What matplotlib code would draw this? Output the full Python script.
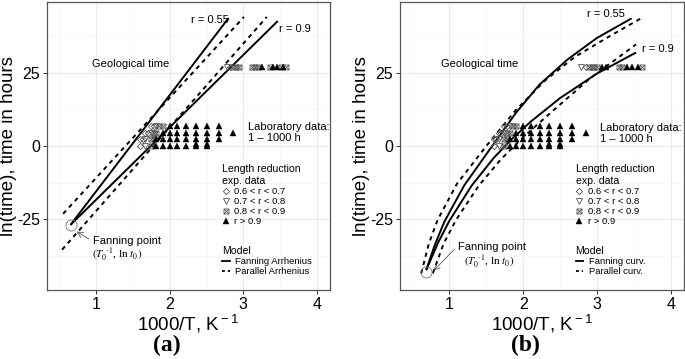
import matplotlib
matplotlib.use('Agg')
import matplotlib.pyplot as plt
from matplotlib.path import Path
from matplotlib.lines import Line2D

plt.rcParams['font.family'] = ['Liberation Sans', 'DejaVu Sans']
plt.rcParams['mathtext.fontset'] = 'custom'
plt.rcParams['mathtext.rm'] = 'Liberation Sans'
plt.rcParams['mathtext.it'] = 'Liberation Sans:italic'

# ---- experimental data: x = 1000/T, y = ln(time in hours) ----
# laboratory data, grouped by length reduction r
lab_r06_x = [1.600, 1.600, 1.635, 1.667, 1.700, 1.739, 1.780]
lab_r06_y = [0.0, 2.3, 2.3, 4.6, 4.6, 6.9, 6.9]
lab_r07_x = [1.667, 1.667, 1.739, 1.818]
lab_r07_y = [0.0, 2.3, 4.6, 6.9]
lab_r08_x = [1.739, 1.739, 1.780, 1.780, 1.818, 1.860, 1.905]
lab_r08_y = [0.0, 2.3, 2.3, 4.6, 4.6, 6.9, 6.9]
lab_r09_x = [1.818, 1.905, 2.000, 2.105, 2.222, 2.353, 2.500, 2.353, 2.500,
             1.818, 1.905, 2.000, 2.105, 2.222, 2.353, 2.500, 2.667,
             1.905, 2.000, 2.105, 2.222, 2.353, 2.500, 2.667, 2.857,
             2.000, 2.105, 2.222, 2.353, 2.500, 2.667]
lab_r09_y = [0.0, 0.0, 0.0, 0.0, 0.0, 0.0, 0.0, 0.69, 0.69,
             2.3, 2.3, 2.3, 2.3, 2.3, 2.3, 2.3, 2.3,
             4.6, 4.6, 4.6, 4.6, 4.6, 4.6, 4.6, 4.6,
             6.9, 6.9, 6.9, 6.9, 6.9, 6.9]

# geological time data (ln t ~ 27), temperatures differ between the two models
geo_y = 27.0
geo_a_r06_x = [2.82]
geo_a_r07_x = [2.78]
geo_a_r08_x = [2.86, 2.90, 2.94, 3.12, 3.16, 3.20, 3.36, 3.51, 3.58]
geo_a_r09_x = [3.26, 3.41, 3.46, 3.54]
geo_b_r06_x = [2.85]
geo_b_r07_x = [2.78]
geo_b_r08_x = [2.89, 2.93, 2.96, 3.00, 3.30, 3.34, 3.61]
geo_b_r09_x = [3.07, 3.12, 3.41, 3.48, 3.55]

# ---- model lines ----
# (a) Arrhenius: fanning and parallel
fan_a_055_x = [0.65, 2.80]
fan_a_055_y = [-27.0, 43.8]
fan_a_09_x = [0.65, 3.47]
fan_a_09_y = [-27.0, 42.8]
par_a_055_x = [0.55, 3.01]
par_a_055_y = [-23.2, 44.2]
par_a_09_x = [0.535, 3.32]
par_a_09_y = [-35.5, 44.2]
fan_point_a = (0.65, -27.0)

# (b) curvilinear: fanning and parallel
fan_b_055_x = [0.685, 0.80, 0.93, 1.20, 1.58, 1.90, 2.22, 2.60, 3.00, 3.47]
fan_b_055_y = [-42.5, -34.0, -26.0, -13.5, 0.0, 11.3, 21.0, 29.6, 37.0, 43.7]
fan_b_09_x = [0.685, 0.85, 1.00, 1.30, 1.60, 1.83, 2.10, 2.50, 3.00, 3.53]
fan_b_09_y = [-42.5, -32.9, -25.6, -13.6, -4.1, 2.0, 8.3, 16.4, 24.8, 32.0]
par_b_055_x = [0.617, 0.72, 0.84, 1.10, 1.50, 1.90, 2.30, 2.70, 3.20, 3.59]
par_b_055_y = [-43.6, -33.5, -25.3, -13.0, 0.0, 12.3, 22.5, 30.5, 38.0, 43.6]
par_b_09_x = [0.775, 0.92, 1.09, 1.40, 1.70, 2.00, 2.40, 2.90, 3.53]
par_b_09_y = [-43.6, -33.5, -25.3, -13.5, -4.5, 3.0, 12.0, 23.0, 34.8]
fan_point_b = (0.68, -43.0)

# square with a cross inside (ggplot shape 7)
box_x = Path([(-1, -1), (1, -1), (1, 1), (-1, 1), (-1, -1), (-1, -1), (1, 1), (-1, 1), (1, -1)],
             [Path.MOVETO, Path.LINETO, Path.LINETO, Path.LINETO, Path.CLOSEPOLY,
              Path.MOVETO, Path.LINETO, Path.MOVETO, Path.LINETO])

open_col = '#555555'
m_r06 = dict(marker='D', ms=3.2, mfc='none', mec=open_col, mew=0.6, ls='none')
m_r07 = dict(marker='v', ms=4.2, mfc='none', mec=open_col, mew=0.6, ls='none')
m_r08 = dict(marker=box_x, ms=3.6, mfc='none', mec=open_col, mew=0.6, ls='none')
m_r09 = dict(marker='^', ms=4.2, mfc='black', mec='black', mew=0.3, ls='none')
solid = dict(color='black', lw=1.4, ls='-', solid_capstyle='butt')
dashed = dict(color='black', lw=1.4, ls=(0, (2.2, 2.2)))

fig = plt.figure(figsize=(6.85, 3.59), dpi=100)
axa = fig.add_axes([47 / 685, 69 / 359, 283 / 685, 288 / 359])
axb = fig.add_axes([400 / 685, 69 / 359, 284 / 685, 288 / 359])


def style_axes(ax):
    ax.set_xlim(0.33, 4.18)
    ax.set_ylim(-49.3, 49.3)
    ax.set_xticks([1, 2, 3, 4])
    ax.set_yticks([-25, 0, 25])
    ax.set_xticks([0.5, 1.5, 2.5, 3.5], minor=True)
    ax.set_yticks([-37.5, -12.5, 12.5, 37.5], minor=True)
    ax.grid(which='major', color='#ebebeb', lw=0.8)
    ax.grid(which='minor', color='#f4f4f4', lw=0.5)
    ax.set_axisbelow(True)
    for s in ax.spines.values():
        s.set_color('#555555')
        s.set_linewidth(0.9)
    ax.tick_params(which='major', length=3, width=0.7, color='#333333',
                   labelsize=11.5, pad=2, labelcolor='black')
    ax.tick_params(which='minor', length=0)
    ax.set_yticklabels(['-25', '0', '25'])
    ax.set_xlabel(r'1000/T, K$^{\rm -1}$', fontsize=13.5, labelpad=1)
    ax.set_ylabel('ln(time), time in hours', fontsize=13.5)
    ax.yaxis.set_label_coords(-0.105, 0.5)


def draw_data(ax, g06, g07, g08, g09):
    ax.plot(lab_r06_x, lab_r06_y, **m_r06)
    ax.plot(lab_r07_x, lab_r07_y, **m_r07)
    ax.plot(lab_r08_x, lab_r08_y, **m_r08)
    ax.plot(lab_r09_x, lab_r09_y, **m_r09)
    ax.plot(g06, [geo_y] * len(g06), **m_r06)
    ax.plot(g07, [geo_y] * len(g07), **m_r07)
    ax.plot(g08, [geo_y] * len(g08), **m_r08)
    ax.plot(g09, [geo_y] * len(g09), **m_r09)


def draw_legends(ax, fan_label, par_label):
    h_data = [Line2D([], [], **m_r06), Line2D([], [], **m_r07),
              Line2D([], [], **m_r08), Line2D([], [], **m_r09)]
    l_data = ['0.6 < r < 0.7', '0.7 < r < 0.8', '0.8 < r < 0.9', 'r > 0.9']
    leg1 = ax.legend(h_data, l_data, title='Length reduction\nexp. data',
                     loc='upper left', bbox_to_anchor=(0.595, 0.46), frameon=False,
                     fontsize=6.8, title_fontsize=7.6, handlelength=0.8,
                     handletextpad=0.5, labelspacing=0.12, borderpad=0.2,
                     alignment='left')
    ax.add_artist(leg1)
    h_mod = [Line2D([], [], color='black', lw=1.3),
             Line2D([], [], color='black', lw=1.3, ls=(0, (1.6, 1.6)))]
    ax.legend(h_mod, [fan_label, par_label], title='Model',
              loc='upper left', bbox_to_anchor=(0.595, 0.175), frameon=False,
              fontsize=6.8, title_fontsize=7.6, handlelength=0.8,
              handletextpad=0.6, labelspacing=0.12, borderpad=0.2,
              alignment='left')


# ---- (a) Arrhenius ----
style_axes(axa)
axa.plot(fan_a_055_x, fan_a_055_y, **solid)
axa.plot(fan_a_09_x, fan_a_09_y, **solid)
axa.plot(par_a_055_x, par_a_055_y, **dashed)
axa.plot(par_a_09_x, par_a_09_y, **dashed)
draw_data(axa, geo_a_r06_x, geo_a_r07_x, geo_a_r08_x, geo_a_r09_x)
axa.plot(*fan_point_a, marker='o', ms=8, mfc='none', mec='#777777', mew=0.6)
axa.annotate('', xy=(0.70, -28.8), xytext=(0.93, -32.3),
             arrowprops=dict(arrowstyle='->', color='#555555', lw=0.6))
axa.text(0.96, -32.5, 'Fanning point', fontsize=8, va='center')
axa.text(1.29, -37.3, r'$(T_0^{\,\cdot 1}$, ln $t_0)$', fontsize=8, va='center',
         ha='center', math_fontfamily='stix', family='Liberation Serif')
axa.text(2.29, 43.3, 'r = 0.55', fontsize=8, va='center')
axa.text(3.48, 40.1, 'r = 0.9', fontsize=8, va='center')
axa.text(0.94, 28.2, 'Geological time', fontsize=8, va='center')
axa.text(3.06, 6.4, 'Laboratory data:', fontsize=8, va='center')
axa.text(3.06, 2.8, '1 \u2013 1000 h', fontsize=8, va='center')
draw_legends(axa, 'Fanning Arrhenius', 'Parallel Arrhenius')

# ---- (b) curvilinear ----
style_axes(axb)
axb.plot(fan_b_055_x, fan_b_055_y, **solid)
axb.plot(fan_b_09_x, fan_b_09_y, **solid)
axb.plot(par_b_055_x, par_b_055_y, **dashed)
axb.plot(par_b_09_x, par_b_09_y, **dashed)
draw_data(axb, geo_b_r06_x, geo_b_r07_x, geo_b_r08_x, geo_b_r09_x)
axb.plot(*fan_point_b, marker='o', ms=8, mfc='none', mec='#777777', mew=0.6)
axb.annotate('', xy=(0.76, -43.3), xytext=(1.09, -34.8),
             arrowprops=dict(arrowstyle='->', color='#555555', lw=0.6))
axb.text(1.11, -34.7, 'Fanning point', fontsize=8, va='center')
axb.text(1.54, -39.6, r'$(T_0^{\,\cdot 1}$, ln $t_0)$', fontsize=8, va='center',
         ha='center', math_fontfamily='stix', family='Liberation Serif')
axb.text(2.86, 45.2, 'r = 0.55', fontsize=8, va='center')
axb.text(3.61, 33.1, 'r = 0.9', fontsize=8, va='center')
axb.text(0.89, 28.2, 'Geological time', fontsize=8, va='center')
axb.text(3.04, 6.3, 'Laboratory data:', fontsize=8, va='center')
axb.text(3.04, 2.3, '1 \u2013 1000 h', fontsize=8, va='center')
draw_legends(axb, 'Fanning curv.', 'Parallel curv.')

# panel captions
fig.text(167 / 685, 1 - 345 / 359, '(a)', family='Liberation Serif', weight='bold',
         fontsize=17, ha='center', va='center')
fig.text(525 / 685, 1 - 345 / 359, '(b)', family='Liberation Serif', weight='bold',
         fontsize=17, ha='center', va='center')

fig.savefig('out.png', dpi=100)
